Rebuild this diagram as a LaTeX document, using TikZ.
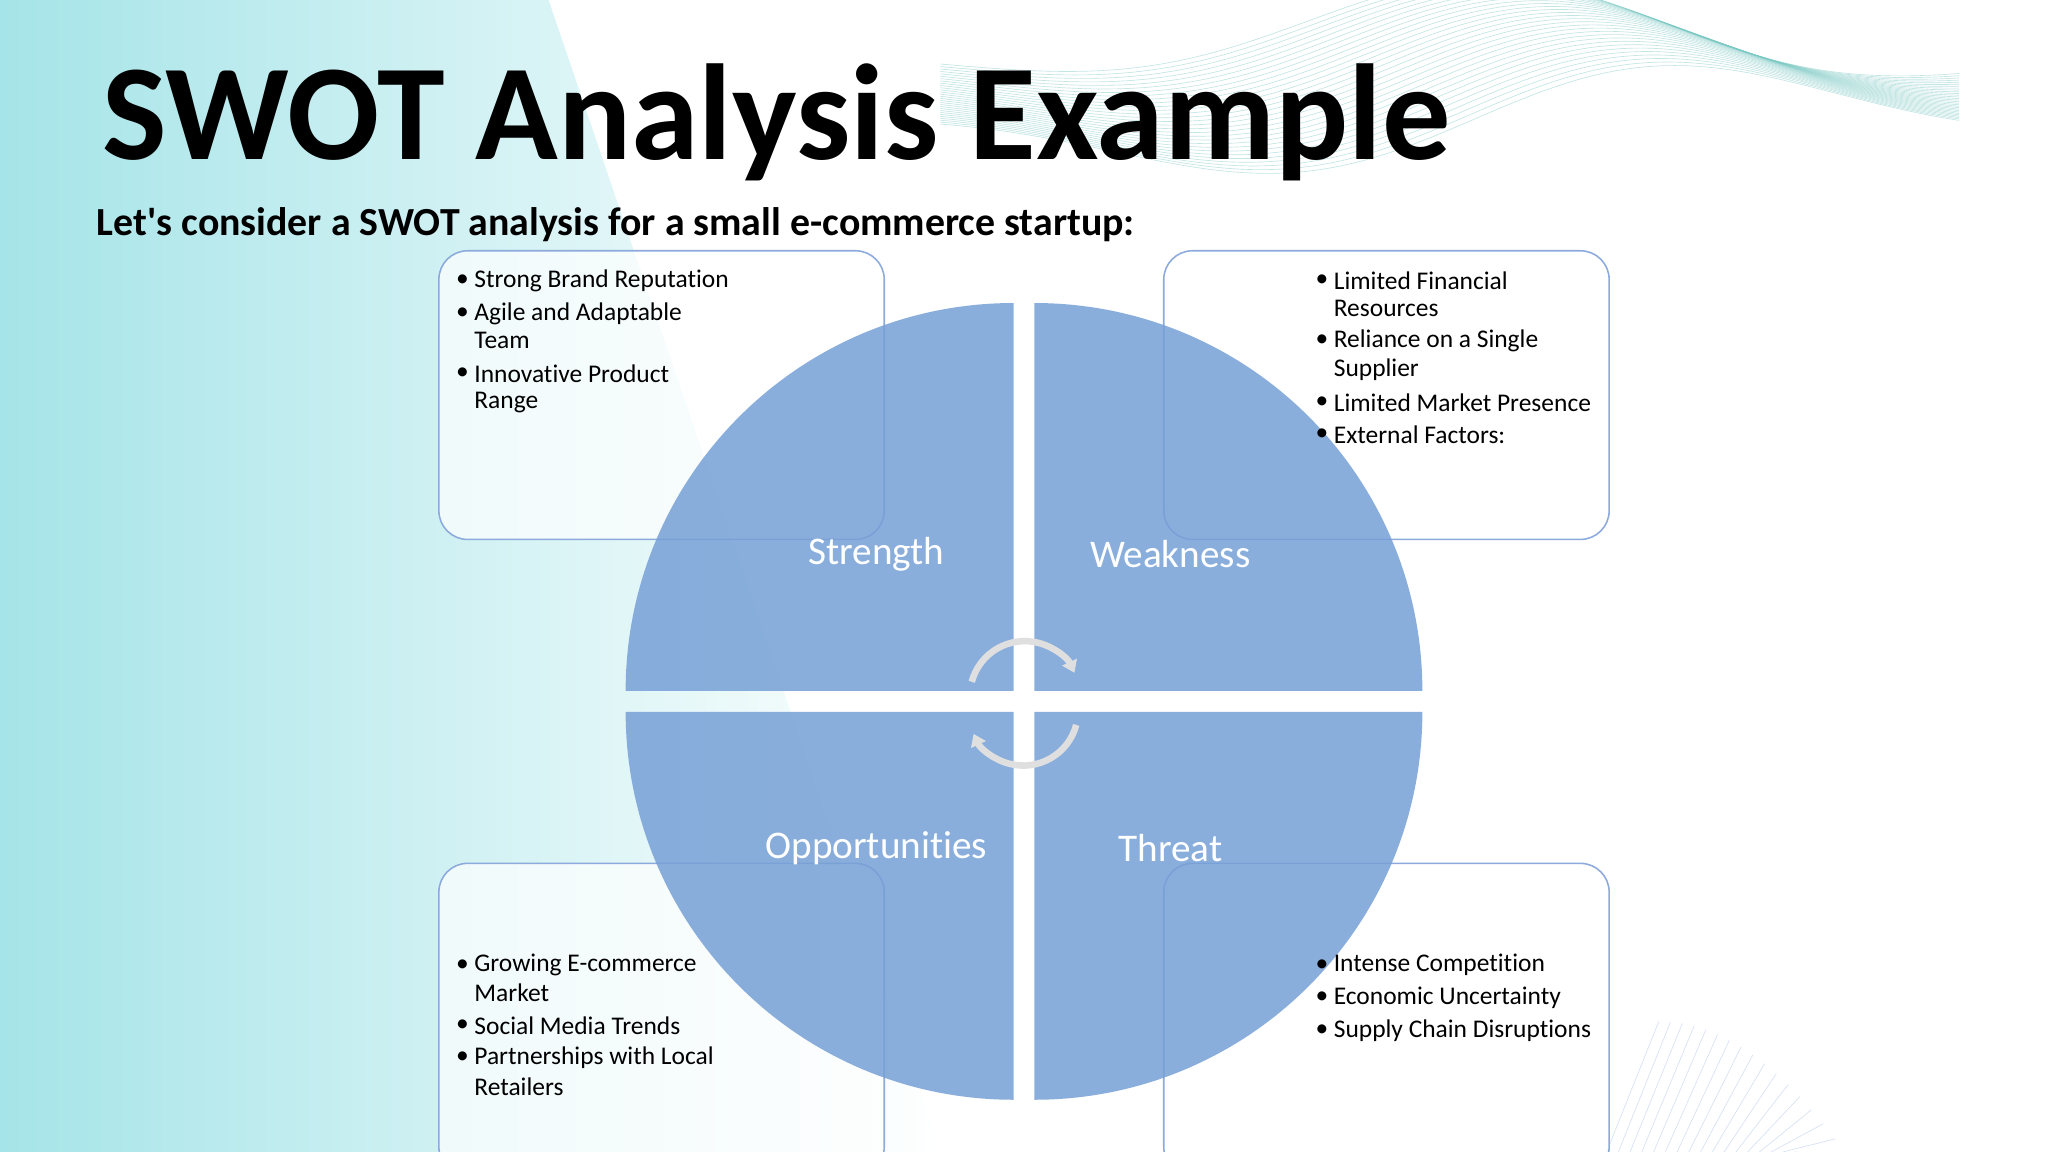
\documentclass[tikz,border=0pt]{standalone}
\usepackage{fontspec}
\setmainfont[Ligatures={NoCommon}]{Carlito}
\newfontfamily\plainfont[Ligatures={NoCommon}]{Carlito}
\usetikzlibrary{arrows.meta}
\definecolor{quad}{RGB}{118,160,214}
\definecolor{boxline}{RGB}{140,170,220}
\definecolor{wave}{RGB}{120,200,195}
\tikzset{
  infobox/.style={draw=boxline, line width=1.2pt, rounded corners=22pt, fill=white, fill opacity=0.7},
  quadrant/.style={fill=quad, fill opacity=0.85},
  qlabel/.style={text=white, font=\fontsize{30}{34}\selectfont},
  bul/.style={anchor=west, font=\fontsize{19.5}{22}\selectfont, inner sep=0pt},
  cyc/.style={draw=gray!25, line width=5pt, -{Triangle[length=9pt,width=12pt]}}
}
\begin{document}
\begin{tikzpicture}[x=1pt,y=1pt]
\useasboundingbox (0,0) rectangle (1568,-882);
\fill[white] (0,0) rectangle (1568,-882);
\shade[left color={rgb,255:red,165;green,228;blue,232}, right color=white] (0,0) -- (420,0) -- (720,-882) -- (0,-882) -- cycle;
% waves
\foreach \i in {0,...,28}{
  \draw[wave, opacity=0.45, line width=0.5pt] plot[domain=720:1500, samples=70, smooth] (\x, {-95 + 2*\i - 55*sin((\x-720)*0.45 + \i*3)*exp(-((\x-1150)/330)^2)});
}
\foreach \i in {0,...,34}{
  \draw[boxline!70, opacity=0.5, line width=0.5pt] plot[domain=0:1, samples=20, smooth] ({1230 + 9*\i + 40*\x}, {-882 + 100*\x*(1-0.004*\i*\i) });
}
% title
\node[anchor=base west, inner sep=0pt, font=\fontsize{104.5}{120}\selectfont\bfseries] (title) at (78,-122) {SWOT Analysis Example};
\node[anchor=base west, inner sep=0pt, font=\plainfont\fontsize{30.5}{34}\selectfont\bfseries] (sub) at (74,-180) {Let's consider a SWOT analysis for a small e-commerce startup:};
% boxes
\draw[infobox] (336,-192) rectangle (677,-413);
\draw[infobox] (891,-192) rectangle (1232,-413);
\draw[infobox] (336,-661) rectangle (677,-900);
\draw[infobox] (891,-661) rectangle (1232,-900);
% quadrants
\fill[quadrant] (776,-529) -- (479,-529) arc[start angle=180,end angle=90,radius=297] -- cycle;
\fill[quadrant] (792,-529) -- (792,-232) arc[start angle=90,end angle=0,radius=297] -- cycle;
\fill[quadrant] (776,-545) -- (776,-842) arc[start angle=270,end angle=180,radius=297] -- cycle;
\fill[quadrant] (792,-545) -- (1089,-545) arc[start angle=0,end angle=-90,radius=297] -- cycle;
\node[qlabel] (s) at (671,-424) {Strength};
\node[qlabel] (w) at (896,-424) {Weakness};
\node[qlabel] (o) at (671,-649) {Opportunities};
\node[qlabel] (t) at (896,-649) {Threat};
% cycle arrows
\draw[cyc] (744,-522) arc[start angle=165,end angle=25,radius=42];
\draw[cyc] (824,-555) arc[start angle=-15,end angle=-155,radius=42];
% bullets
\foreach \y/\b/\t in {215/1/Strong Brand Reputation, 240/1/Agile and Adaptable, 261/0/Team, 286/1/Innovative Product, 308/0/Range}{
  \node[bul] (tl\y) at (363,-\y) {\t};
  \ifnum\b=1 \node[bul] at (349,-\y) {•};\fi
}
\foreach \y/\b/\t in {215/1/Limited Financial, 236/0/Resources, 261/1/Reliance on a Single, 283/0/Supplier, 308/1/Limited Market Presence, 333/1/External Factors:}{
  \node[bul] (tr\y) at (1021,-\y) {\t};
  \ifnum\b=1 \node[bul] at (1007,-\y) {•};\fi
}
\foreach \y/\b/\t in {739/1/Growing E-commerce, 760/0/Market, 785/1/Social Media Trends, 810/1/Partnerships with Local, 832/0/Retailers}{
  \node[bul] (bl\y) at (363,-\y) {\t};
  \ifnum\b=1 \node[bul] at (349,-\y) {•};\fi
}
\foreach \y/\b/\t in {739/1/Intense Competition, 764/1/Economic Uncertainty, 789/1/Supply Chain Disruptions}{
  \node[bul] (br\y) at (1021,-\y) {\t};
  \ifnum\b=1 \node[bul] at (1007,-\y) {•};\fi
}
\end{tikzpicture}
\end{document}
